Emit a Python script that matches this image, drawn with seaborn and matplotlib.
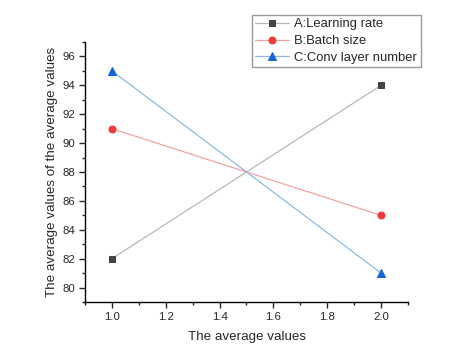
import numpy as np
import pandas as pd
import matplotlib
matplotlib.use("Agg")
import matplotlib.pyplot as plt
from matplotlib.ticker import MultipleLocator
import seaborn as sns

levels = [1.0, 2.0]
learning_rate = [82, 94]
batch_size = [91, 85]
conv_layers = [95, 81]
names = ["A:Learning rate", "B:Batch size", "C:Conv layer number"]

sns.set_style("ticks")
plt.rcParams["font.family"] = ["Liberation Sans", "DejaVu Sans"]

fig = plt.figure(figsize=(4.74, 3.63), dpi=100)
ax = fig.add_axes([85 / 474, 1 - 302 / 363, (408 - 85) / 474, (302 - 42) / 363])

styles = [
    (learning_rate, "#b8b8b8", "#444444", "s", 4.5),
    (batch_size, "#f4a3a3", "#ee3a3a", "o", 5),
    (conv_layers, "#8fb8e6", "#1565d8", "^", 5.5),
]
for name, (vals, lc, mc, mk, ms) in zip(names, styles):
    df = pd.DataFrame({"x": levels, "y": vals})
    sns.lineplot(data=df, x="x", y="y", ax=ax, color=lc, lw=0.9, marker=mk,
                 markersize=ms, markerfacecolor=mc, markeredgecolor=mc,
                 label=name)

ax.set_xlim(0.9, 2.1)
ax.set_ylim(79, 97)
ax.xaxis.set_major_locator(MultipleLocator(0.2))
ax.xaxis.set_minor_locator(MultipleLocator(0.1))
ax.yaxis.set_major_locator(MultipleLocator(2))
ax.yaxis.set_minor_locator(MultipleLocator(1))
ax.set_yticks(np.arange(80, 97, 2))
ax.tick_params(which="major", length=4, width=1, labelsize=8.2, direction="out", pad=3)
ax.tick_params(which="minor", length=2.5, width=1, direction="out")
for s in ["top", "right"]:
    ax.spines[s].set_visible(False)
for s in ["left", "bottom"]:
    ax.spines[s].set_linewidth(1)
    ax.spines[s].set_color("black")

ax.set_xlabel("The average values", fontsize=9.6, labelpad=7)
ax.set_ylabel("The average values of the average values", fontsize=9.6, labelpad=3)

handles, labels = ax.get_legend_handles_labels()
ax.legend(handles, labels, loc="upper left", bbox_to_anchor=(252 / 474, 1 - 15 / 363),
          bbox_transform=fig.transFigure, fontsize=9.4, frameon=True, fancybox=False,
          edgecolor="#999999", framealpha=1, borderpad=0.25, labelspacing=0.35,
          handlelength=2.6, handletextpad=0.4, borderaxespad=0)

fig.savefig("out.png", dpi=100)
